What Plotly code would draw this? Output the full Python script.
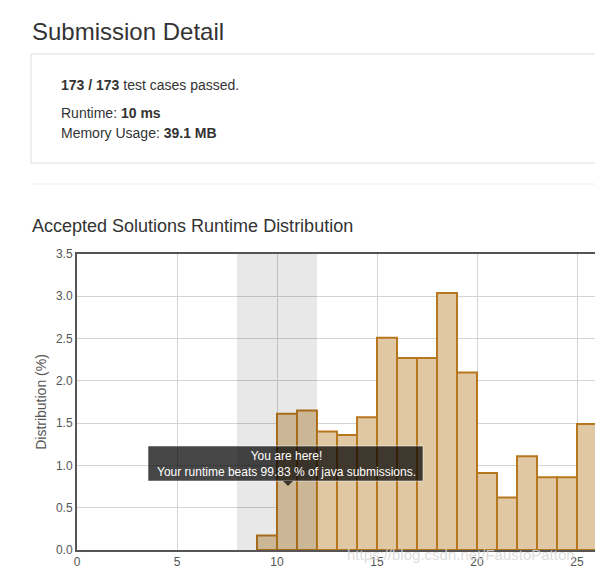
import plotly.graph_objects as go

# ---- data ----
bin_starts = [9, 10, 11, 12, 13, 14, 15, 16, 17, 18, 19, 20, 21, 22, 23, 24, 25]
distribution = [0.17, 1.61, 1.65, 1.40, 1.36, 1.57, 2.51, 2.27, 2.27, 3.04, 2.10,
                0.91, 0.62, 1.11, 0.86, 0.86, 1.49]
x_ticks = [0, 5, 10, 15, 20, 25]
y_ticks = [0.0, 0.5, 1.0, 1.5, 2.0, 2.5, 3.0, 3.5]
highlight_range = [8, 12]
tooltip_lines = ["You are here!", "Your runtime beats 99.83 % of java submissions."]

W, H = 595, 574
L, R, T, B = 77, 0, 254, 24
pw, ph = W - L - R, H - T - B


def px(x):
    return (x - L) / pw


def py(y):
    return (H - B - y) / ph


FONT = "Liberation Sans, Arial, Helvetica, sans-serif"

fig = go.Figure()
fig.add_trace(go.Bar(
    x=[b + 0.5 for b in bin_starts],
    y=distribution,
    width=1,
    marker=dict(color="rgb(224,200,164)", line=dict(color="rgb(183,119,30)", width=2)),
    hoverinfo="skip",
))

shapes = [
    dict(type="rect", xref="x", yref="paper", x0=highlight_range[0], x1=highlight_range[1],
         y0=0, y1=1, fillcolor="rgba(0,0,0,0.09)", line=dict(width=0), layer="above"),
    dict(type="rect", xref="paper", yref="paper", x0=px(31), x1=px(605), y0=py(54), y1=py(163),
         line=dict(color="#dddddd", width=1), fillcolor="rgba(0,0,0,0)"),
    dict(type="line", xref="paper", yref="paper", x0=px(31), x1=px(605), y0=py(184), y1=py(184),
         line=dict(color="#eeeeee", width=1)),
    dict(type="rect", xref="paper", yref="paper", x0=px(148), x1=px(423), y0=py(446), y1=py(481),
         fillcolor="rgba(0,0,0,0.72)", line=dict(color="rgba(255,255,255,0.5)", width=1), layer="above"),
    dict(type="path", xref="paper", yref="paper",
         path=f"M {px(283)},{py(481)} L {px(293)},{py(481)} L {px(288)},{py(486)} Z",
         fillcolor="rgba(0,0,0,0.72)", line=dict(width=0), layer="above"),
]

annotations = [
    dict(text="Submission Detail", x=px(30), y=py(31), xref="paper", yref="paper",
         xanchor="left", yanchor="middle", showarrow=False,
         font=dict(family=FONT, size=24, color="#333333")),
    dict(text="<b>173 / 173</b> test cases passed.", x=px(59), y=py(85), xref="paper", yref="paper",
         xanchor="left", yanchor="middle", showarrow=False,
         font=dict(family=FONT, size=14, color="#333333")),
    dict(text="Runtime: <b>10 ms</b>", x=px(59), y=py(113), xref="paper", yref="paper",
         xanchor="left", yanchor="middle", showarrow=False,
         font=dict(family=FONT, size=14, color="#333333")),
    dict(text="Memory Usage: <b>39.1 MB</b>", x=px(59), y=py(133), xref="paper", yref="paper",
         xanchor="left", yanchor="middle", showarrow=False,
         font=dict(family=FONT, size=14, color="#333333")),
    dict(text="Accepted Solutions Runtime Distribution", x=px(30), y=py(226), xref="paper", yref="paper",
         xanchor="left", yanchor="middle", showarrow=False,
         font=dict(family=FONT, size=18, color="#333333")),
    dict(text="<br>".join(tooltip_lines), x=px(286), y=py(463.5), xref="paper", yref="paper",
         xanchor="center", yanchor="middle", showarrow=False, align="center",
         font=dict(family=FONT, size=12, color="#ffffff")),
    dict(text="https://blog.csdn.net/FaustoPatton", x=px(345), y=py(554), xref="paper", yref="paper",
         xanchor="left", yanchor="middle", showarrow=False,
         font=dict(family=FONT, size=15, color="rgba(215,215,215,0.85)")),
]

fig.update_layout(
    width=W, height=H,
    margin=dict(l=L, r=R, t=T, b=B),
    paper_bgcolor="white", plot_bgcolor="white",
    showlegend=False,
    shapes=shapes,
    annotations=annotations,
    font=dict(family=FONT),
    xaxis=dict(range=[0, pw / 20], tickvals=x_ticks, showgrid=True, gridcolor="#d4d4d4", gridwidth=1,
               showline=True, linecolor="#555555", linewidth=2, mirror=True, zeroline=False,
               ticks="", tickfont=dict(size=12, color="#555555")),
    yaxis=dict(range=[0, 3.5], tickvals=y_ticks, ticktext=[f"{v:.1f}" for v in y_ticks],
               showgrid=True, gridcolor="#d4d4d4", gridwidth=1,
               showline=True, linecolor="#555555", linewidth=2, zeroline=False,
               ticks="", tickfont=dict(size=12, color="#555555"),
               title=dict(text="Distribution (%)", font=dict(size=14, color="#555555"), standoff=6)),
)

fig.write_html("out.html", config={"displayModeBar": False},
               post_script="document.body.style.margin='0';document.body.style.overflow='hidden';")
